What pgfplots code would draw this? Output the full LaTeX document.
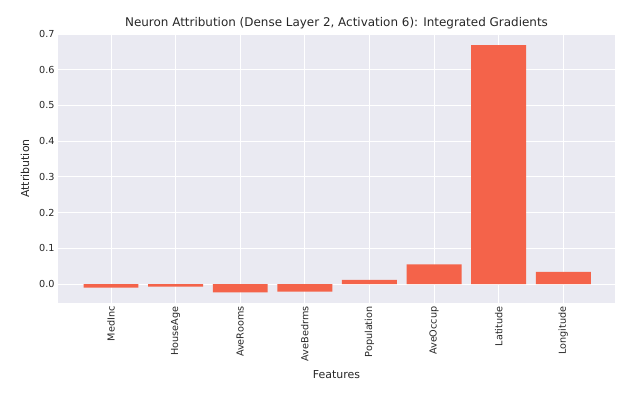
\documentclass[border=0pt]{standalone}
\usepackage{pgfplots}
\pgfplotsset{compat=1.18}
\usepackage{fontspec}
\setmainfont{DejaVu Sans}
\definecolor{bg}{HTML}{EAEAF2}
\definecolor{barc}{RGB}{244,99,74}
\definecolor{txt}{HTML}{262626}
\begin{document}
\begin{tikzpicture}
\useasboundingbox (0,0) rectangle (632bp,397bp);
\begin{axis}[
  at={(58bp,94bp)}, anchor=south west,
  scale only axis, width=557bp, height=269bp,
  xmin=-0.82, xmax=7.8, ymin=-0.053, ymax=0.7,
  axis background/.style={fill=bg},
  axis line style={draw=none},
  major tick length=0pt,
  grid=major, grid style={white, line width=0.8pt},
  xtick={0,...,7},
  xticklabels={MedInc,HouseAge,AveRooms,AveBedrms,Population,AveOccup,Latitude,Longitude},
  xticklabel style={rotate=90, anchor=east, font=\fontsize{9.7}{12}\selectfont, text=txt},
  ytick={0,0.1,...,0.7},
  yticklabel style={/pgf/number format/fixed, /pgf/number format/fixed zerofill, /pgf/number format/precision=1, font=\fontsize{9.7}{12}\selectfont, text=txt},
  /pgf/number format/assume math mode=true,
  xlabel={Features}, ylabel={Attribution},
  label style={font=\fontsize{11}{13}\selectfont, text=txt},
  xlabel style={yshift=-2bp},
  ylabel style={yshift=3bp},
  title={Neuron Attribution (Dense Layer 2, Activation 6): Integrated Gradients},
  title style={font=\fontsize{12}{14}\selectfont, text=txt, yshift=-4bp},
  ybar, bar width=0.85, bar shift=0pt,
]
\addplot[fill=barc, draw=none] coordinates {
(0,-0.010) (1,-0.007) (2,-0.023) (3,-0.021) (4,0.012) (5,0.055) (6,0.669) (7,0.034)};
\end{axis}
\end{tikzpicture}
\end{document}
